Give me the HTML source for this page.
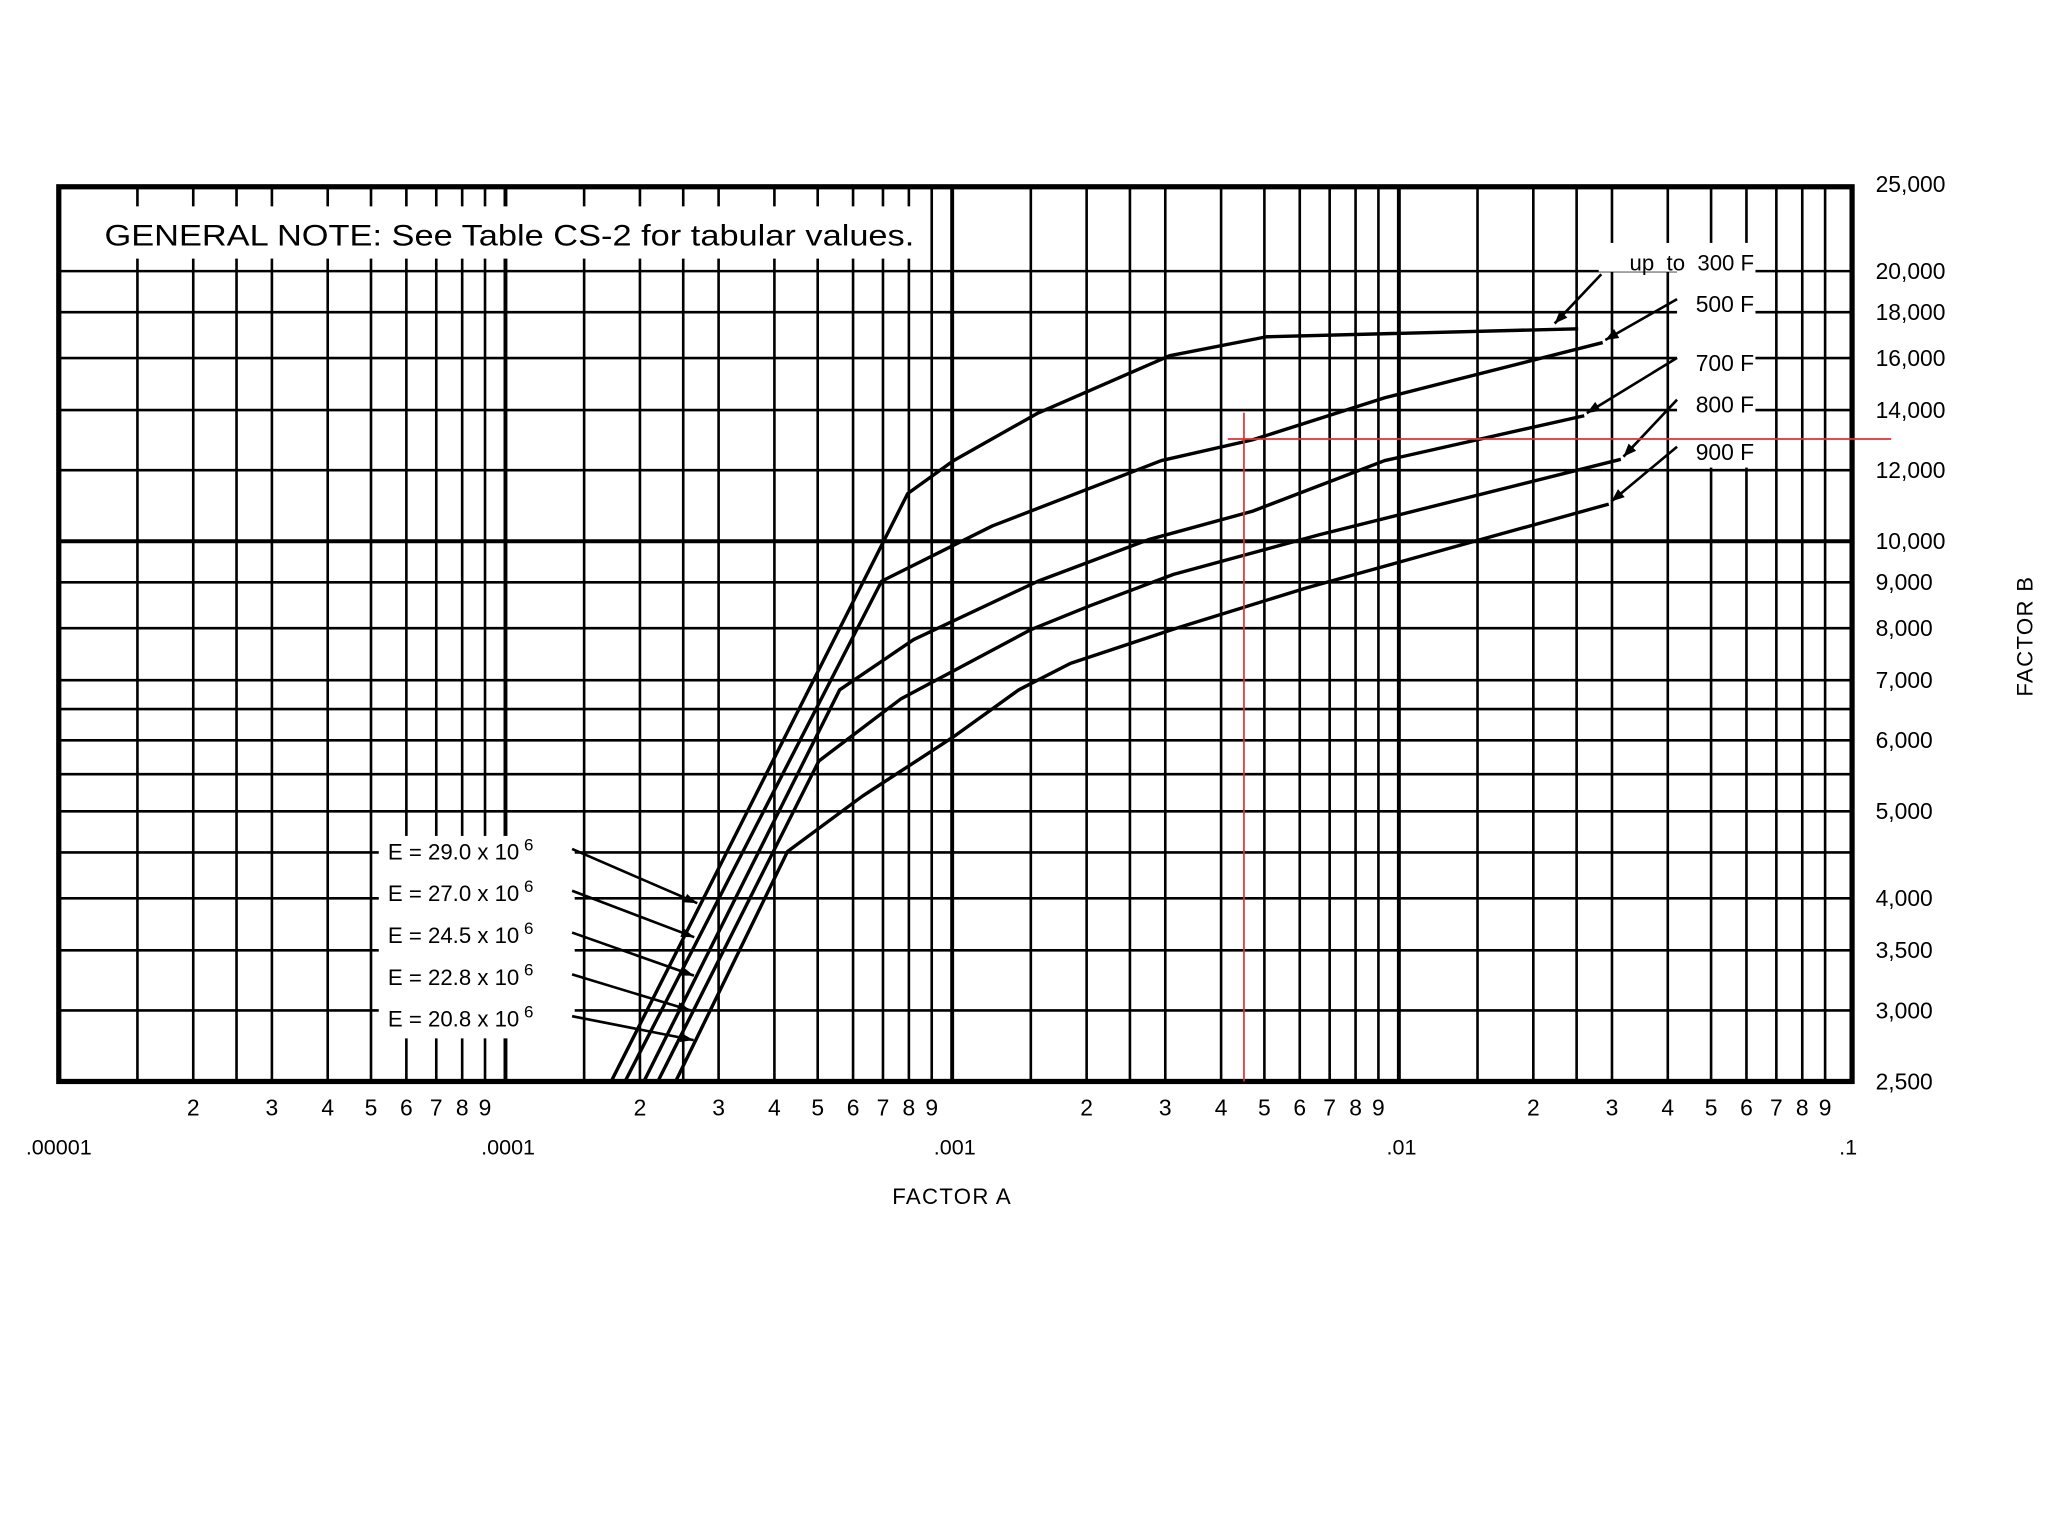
<!DOCTYPE html>
<html><head><meta charset="utf-8"><style>
html,body{margin:0;padding:0;background:#fff;}
svg{display:block;font-family:"Liberation Sans",Arial,sans-serif;}
text{white-space:pre;}
</style></head><body>
<svg id="chart" width="2048" height="1536" viewBox="0 0 1568 1176" xmlns="http://www.w3.org/2000/svg">
<g id="grid"></g>
<g id="masks">
<rect x="72" y="158" width="635" height="40" fill="#fff"/>
<rect x="290" y="640" width="150" height="155" fill="#fff"/>
<rect x="1224" y="186" width="120" height="22" fill="#fff"/>
<rect x="1284" y="186" width="60" height="172" fill="#fff"/>
</g>
<g id="curves"></g>
<g id="frame"><rect x="45" y="143" width="1373" height="685" fill="none" stroke="#000" stroke-width="4"/></g>
<text x="80" y="188" font-size="23" textLength="620" lengthAdjust="spacingAndGlyphs">GENERAL NOTE: See Table CS-2 for tabular values.</text>
<g id="labels" font-size="16.5"></g>
<text x="729" y="922" font-size="17" text-anchor="middle" letter-spacing="1">FACTOR A</text>
<text x="1556" y="487" font-size="17" text-anchor="middle" letter-spacing="1" transform="rotate(-90 1556 487)">FACTOR B</text>
</svg>
<script>
const yTicks=[25000,20000,18000,16000,14000,12000,10000,9000,8000,7000,6000,5000,4000,3500,3000,2500];
const yGrid=[20000,18000,16000,14000,12000,10000,9000,8000,7000,6500,6000,5500,5000,4500,4000,3500,3000];
const xDecades=[0.00001,0.0001,0.001,0.01,0.1];
const xDecadeLabels=[".00001",".0001",".001",".01",".1"];
const xMinor=[1.5,2,2.5,3,4,5,6,7,8,9];
const xMinorLabels=[2,3,4,5,6,7,8,9];
const curveNames=["E = 29.0 x 10","E = 27.0 x 10","E = 24.5 x 10","E = 22.8 x 10","E = 20.8 x 10"];
const tempNames=["up  to  300 F","500 F","700 F","800 F","900 F"];
const modulus=[29.0e6,27.0e6,24.5e6,22.8e6,20.8e6];
const leaderB=[3950,3620,3280,3000,2780];
const curveA=[
 [7.95e-4,1.005e-3,1.55e-3,3.07e-3,5.06e-3,2.52e-2],
 [6.95e-4,1.23e-3,2.94e-3,4.7e-3,9.3e-3,2.86e-2],
 [5.6e-4,8.2e-4,1.56e-3,2.75e-3,4.7e-3,9.3e-3,2.6e-2],
 [5.03e-4,7.67e-4,1.5e-3,2.03e-3,3.13e-3,6.65e-3,3.14e-2],
 [4.28e-4,6.3e-4,1.0e-3,1.41e-3,1.84e-3,3.13e-3,6.2e-3,2.95e-2]];
const curveB=[
 [11300,12290,13880,16100,16900,17250],
 [9025,10400,12300,12970,14450,16650],
 [6830,7770,9030,10040,10800,12300,13800],
 [5690,6670,7970,8470,9185,10170,12340],
 [4510,5200,6040,6830,7310,7980,8870,11000]];
const refA=4.5e-3, refB=13000;

const X0=45,DEC=342,Y0=828,YDEC=687;
const xs=a=>X0+DEC*(Math.log10(a)+5);
const ys=b=>Y0-YDEC*Math.log10(b/2500);
const NS="http://www.w3.org/2000/svg";
function mk(tag,attrs,parent){const e=document.createElementNS(NS,tag);for(const k in attrs)e.setAttribute(k,attrs[k]);parent.appendChild(e);return e;}
const grid=document.getElementById('grid'),curves=document.getElementById('curves'),labels=document.getElementById('labels'),svg=document.getElementById('chart');
xDecades.forEach((d,i)=>{
 if(i>0&&i<4){const l=mk('line',{x1:xs(d),x2:xs(d),y1:143,y2:828,stroke:'#000','stroke-width':3},grid);
 
 }
 if(i<4)xMinor.forEach(m=>{const l=mk('line',{x1:xs(d*m),x2:xs(d*m),y1:143,y2:828,stroke:'#000','stroke-width':2},grid);
 
 });
});
yGrid.forEach(v=>{const l=mk('line',{x1:45,x2:1418,y1:ys(v),y2:ys(v),stroke:'#000','stroke-width':v===10000?3:2},grid);
 
 });
yTicks.forEach(v=>{const t=mk('text',{x:1436,y:ys(v)+6,'font-size':17.5},labels);t.textContent=v.toLocaleString('en-US');
 
 });
xDecades.forEach((d,i)=>{const t=mk('text',{x:xs(d)+(i===0?0:2),y:884,'text-anchor':'middle','font-size':16.5},labels);t.textContent=xDecadeLabels[i];
 
 
 if(i<4)xMinorLabels.forEach(m=>{const u=mk('text',{x:xs(d*m),y:854,'text-anchor':'middle','font-size':17.5},labels);u.textContent=m;
 
 });});
modulus.forEach((E,i)=>{
 const a0=2*2500/E;
 let pts=[[xs(a0),ys(2500)]];
 curveA[i].forEach((a,j)=>pts.push([xs(a),ys(curveB[i][j])]));
 const p=mk('polyline',{points:pts.map(p=>p.join(',')).join(' '),fill:'none',stroke:'#000','stroke-width':2.6,'stroke-linejoin':'round'},curves);
 
 
 const ly=658+i*32;
 const t=mk('text',{x:297,y:ly,'font-size':17},labels);t.textContent=curveNames[i];
 mk('tspan',{dy:-7,'font-size':13},t).textContent=' 6';
 
 
 const lb=leaderB[i];
 const bx=xs(2*lb/E)-2, by=ys(lb);
 const ld=mk('line',{x1:438,y1:ly-8,x2:bx,y2:by,stroke:'#000','stroke-width':2},curves);
 
 
 const ang0=Math.atan2(by-(ly-8),bx-438),L0=10,W0=3.5;
 const hp0=[[bx,by],[bx-L0*Math.cos(ang0)+W0*Math.sin(ang0),by-L0*Math.sin(ang0)-W0*Math.cos(ang0)],[bx-L0*Math.cos(ang0)-W0*Math.sin(ang0),by-L0*Math.sin(ang0)+W0*Math.cos(ang0)]];
 const h0=mk('polygon',{points:hp0.map(p=>p.join(',')).join(' '),fill:'#000'},curves);
 
 
 const ty=[207,239,284,316,352][i];
 const tt=mk('text',{x:1343,y:ty,'text-anchor':'end','font-size':i===0?17:17.5},labels);tt.textContent=tempNames[i];
 
 
 const last=pts[pts.length-1];
 const sx=i===0?1226:1284, sy=i===0?210:ty-10;
 const ex=i===0?last[0]-18:last[0]+2, ey=i===0?last[1]-4:last[1]-2;
 const ar=mk('line',{x1:sx,y1:sy,x2:ex,y2:ey,stroke:'#000','stroke-width':2},curves);
 
 
 const ang=Math.atan2(ey-sy,ex-sx),L=10,W=4;
 const hp=[[ex,ey],[ex-L*Math.cos(ang)+W*Math.sin(ang),ey-L*Math.sin(ang)-W*Math.cos(ang)],[ex-L*Math.cos(ang)-W*Math.sin(ang),ey-L*Math.sin(ang)+W*Math.cos(ang)]];
 const h=mk('polygon',{points:hp.map(p=>p.join(',')).join(' '),fill:'#000'},curves);
 
 
});
const rv=mk('line',{x1:xs(refA),x2:xs(refA),y1:316,y2:828,stroke:'#e03030','stroke-width':1.3},svg);


const rh=mk('line',{x1:940,x2:1448,y1:ys(refB),y2:ys(refB),stroke:'#e03030','stroke-width':1.3},svg);


</script>
</body></html>
